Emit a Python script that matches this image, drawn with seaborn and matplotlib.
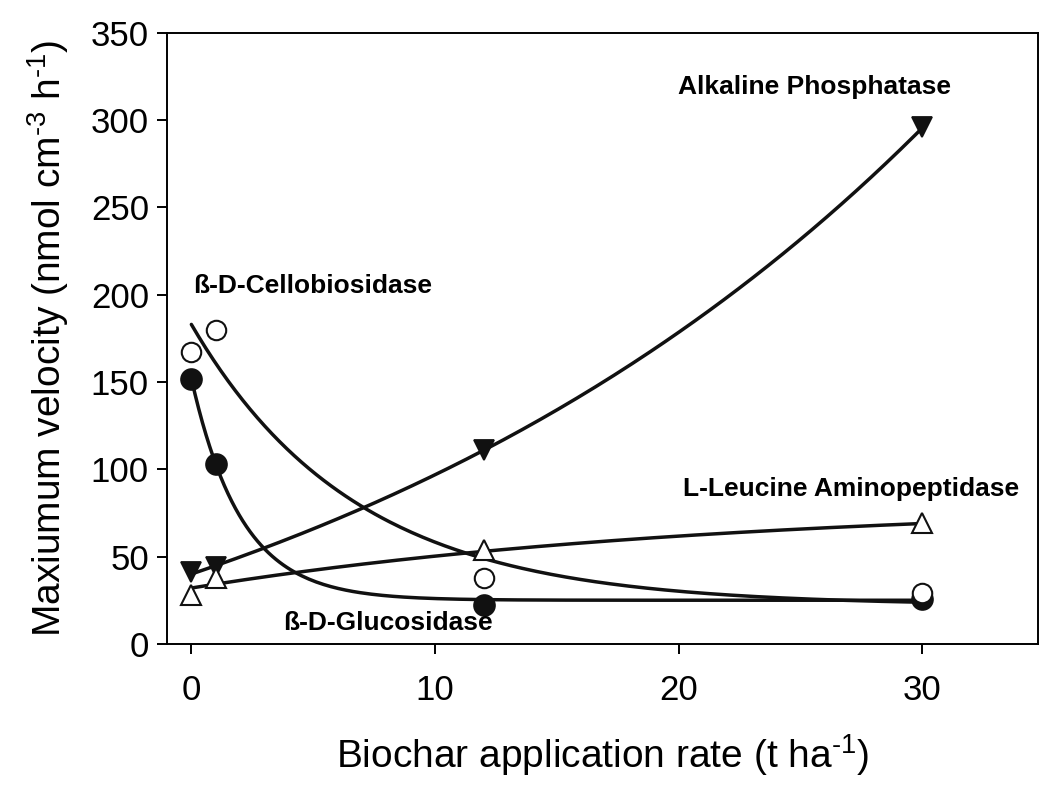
import matplotlib
matplotlib.use("Agg")
import matplotlib.pyplot as plt
import numpy as np
import pandas as pd
import seaborn as sns

# Data
rate = [0, 1, 12, 30]
cellobiosidase = [167, 180, 38, 29]
glucosidase = [152, 103, 22, 26]
phosphatase = [41, 44, 111, 296]
aminopeptidase = [28, 38, 54, 69]

# fitted curve parameters (y = c + a*exp(k*x))
fit_cello = (22, 161, -0.149)
fit_gluco = (25, 127, -0.487)
fit_phos = (-90.8, 130.8, 0.0361)
fit_amino = (81.2, -49.2, -0.0464)

sns.set_style("ticks")
plt.rcParams['font.family'] = ['Liberation Sans', 'DejaVu Sans']
plt.rcParams['mathtext.fontset'] = 'custom'
plt.rcParams['mathtext.rm'] = 'Liberation Sans'
plt.rcParams['mathtext.it'] = 'Liberation Sans:italic'
plt.rcParams['mathtext.bf'] = 'Liberation Sans:bold'

fig = plt.figure(figsize=(10.57, 7.92), dpi=100)
ax = fig.add_axes([0.158, 0.187, 0.824, 0.7715])

xs = np.linspace(0, 30, 200)
for c, a, k in [fit_cello, fit_gluco, fit_phos, fit_amino]:
    curve = pd.DataFrame({"x": xs, "y": c + a * np.exp(k * xs)})
    sns.lineplot(data=curve, x="x", y="y", ax=ax, color="#111111", lw=2.5)

ax.plot(rate, glucosidase, 'o', ms=15, mfc="#111111", mec="#111111", mew=1.3, ls='none')
ax.plot(rate, cellobiosidase, 'o', ms=14, mfc="white", mec="#111111", mew=1.5, ls='none')
ax.plot(rate, phosphatase, 'v', ms=15, mfc="#111111", mec="#111111", mew=1.3, ls='none')
ax.plot(rate, aminopeptidase, '^', ms=15, mfc="white", mec="#111111", mew=1.5, ls='none')

lab = dict(fontsize=19, fontweight='bold', ha='left', va='center', color="black")
ax.text(19.98, 319, "Alkaline Phosphatase", **lab)
ax.text(0.08, 205, "ß-D-Cellobiosidase", **lab)
ax.text(20.19, 89, "L-Leucine Aminopeptidase", **lab)
ax.text(3.78, 12, "ß-D-Glucosidase", **lab)

ax.set_xlim(-1.0, 34.75)
ax.set_ylim(0, 350)
ax.set_xticks([0, 10, 20, 30])
ax.set_yticks(range(0, 351, 50))
ax.tick_params(labelsize=25, length=7, width=1.4, color="black", labelcolor="black")
ax.tick_params(axis='x', pad=15)
ax.tick_params(axis='y', pad=6)
for s in ax.spines.values():
    s.set_linewidth(1.4)
    s.set_color("black")

ax.set_xlabel("Biochar application rate (t ha$^{\u20101}$)", fontsize=28, labelpad=18, color="black")
ax.set_ylabel("Maxiumum velocity (nmol cm$^{\u20103}$ h$^{\u20101}$)", fontsize=28, labelpad=14, color="black")

fig.savefig("out.png", dpi=100)
